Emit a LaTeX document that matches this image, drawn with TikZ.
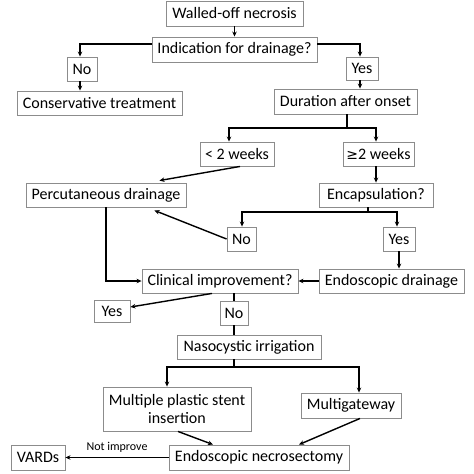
\documentclass[tikz,border=0pt]{standalone}
\usepackage{fontspec}
\setmainfont{Carlito}
\newfontfamily\symfont{DejaVu Sans}
\usetikzlibrary{arrows.meta,calc}
\begin{document}
\begin{tikzpicture}[x=1pt,y=-1pt,
  box/.style={draw=black!45,line width=0.9pt,fill=white,inner sep=0pt,align=center,font=\fontsize{16}{17.5}\selectfont},
  conn/.style={line width=1.4pt},
  arr/.style={conn,-{Stealth[length=5pt,width=4.5pt]}}]
\useasboundingbox (0,0) rectangle (474,474);
\fill[white] (0,0) rectangle (474,474);
\newcommand{\bx}[6]{\node[box,minimum width=#4,minimum height=#5] (#1) at (#2,#3) {#6};}
\bx{wal}{234.5}{13.5}{137}{25}{Walled-off necrosis}
\bx{ind}{234.5}{49.5}{165}{25}{Indication for drainage?}
\bx{no1}{82}{69}{30}{24}{No}
\bx{yes1}{362}{68.5}{32}{23}{Yes}
\bx{cons}{99.5}{103}{165}{24}{Conservative treatment}
\bx{dur}{345.5}{101.5}{143}{25}{Duration after onset}
\bx{lt2}{237}{154}{74}{24}{< 2 weeks}
\bx{ge2}{378.5}{154}{71}{24}{{\symfont\fontsize{14}{17.5}\selectfont ≥}2 weeks}
\bx{perc}{106}{195}{160}{24}{Percutaneous drainage}
\bx{enc}{376}{195}{114}{24}{Encapsulation?}
\bx{no2}{241.5}{239}{29}{24}{No}
\bx{yes2}{399}{239}{32}{24}{Yes}
\bx{clin}{220}{281}{156}{24}{Clinical improvement?}
\bx{endd}{391.5}{281}{145}{24}{Endoscopic drainage}
\bx{yes3}{112}{311}{36}{22}{Yes}
\bx{no3}{234}{313}{28}{24}{No}
\bx{naso}{249}{347}{144}{24}{Nasocystic irrigation}
\bx{mult}{177}{409}{148}{44}{Multiple plastic stent\\insertion}
\bx{mgw}{351}{405.5}{100}{25}{Multigateway}
\bx{necr}{259}{457.5}{180}{25}{Endoscopic necrosectomy}
\bx{vards}{38}{457.5}{54}{25}{VARDs}
% junction coordinates
\coordinate (iy) at (0,44);
\coordinate (dM) at (347,128);
\coordinate (dL) at (229,128);
\coordinate (dR) at (376,128);
\coordinate (eM) at (368,212);
\coordinate (eL) at (242,212);
\coordinate (eR) at (397,212);
\coordinate (nM) at (234,367);
\coordinate (nL) at (167,367);
\coordinate (nR) at (359,367);
% connectors
\draw[arr] (wal.south) -- (ind.north);
\draw[arr] (ind.west |- iy) -| ([xshift=-2pt]no1.north);
\draw[arr] (ind.east |- iy) -| ([xshift=-2pt]yes1.north);
\draw[arr] ([xshift=-2pt]no1.south) -- ([xshift=-2pt]no1.south |- cons.north);
\draw[arr] ([xshift=-2pt]yes1.south) -- ([xshift=-2pt]yes1.south |- dur.north);
\draw[conn] (dM |- dur.south) -- (dM);
\draw[arr] (dM) -| (dL |- lt2.north);
\draw[arr] (dM) -| (dR |- ge2.north);
\draw[arr] ([xshift=3pt]lt2.south) -- ([xshift=-27pt,yshift=2pt]perc.north east);
\draw[arr] (enc.north |- ge2.south) -- (enc.north);
\draw[conn] (eM |- enc.south) -- (eM);
\draw[arr] (eM) -| (eL |- no2.north);
\draw[arr] (eM) -| (eR |- yes2.north);
\draw[arr] (no2.west) -- ([xshift=-32pt,yshift=-3pt]perc.south east);
\draw[arr] (perc.south) |- (clin.west);
\draw[arr] (yes2.south) -- (yes2.south |- endd.north);
\draw[arr] (endd.west) -- (clin.east);
\draw[arr] ([xshift=-8pt]clin.south) -- ([yshift=4pt]yes3.east);
\draw[conn] (no3.north |- clin.south) -- (no3.north);
\draw[conn] (no3.south) -- (no3.south |- naso.north);
\draw[conn] (nM |- naso.south) -- (nM);
\draw[arr] (nM) -| (nL |- mult.north);
\draw[arr] (nM) -| (nR |- mgw.north);
\draw[arr] ([xshift=1pt]mult.south) -- ([xshift=-46pt]necr.north);
\draw[arr] ([xshift=9pt]mgw.south) -- ([xshift=40pt]necr.north);
\draw[arr] (necr.west) -- node[above=1pt,font=\fontsize{12}{13}\selectfont] (ni) {Not improve} (vards.east);
\end{tikzpicture}
\end{document}
